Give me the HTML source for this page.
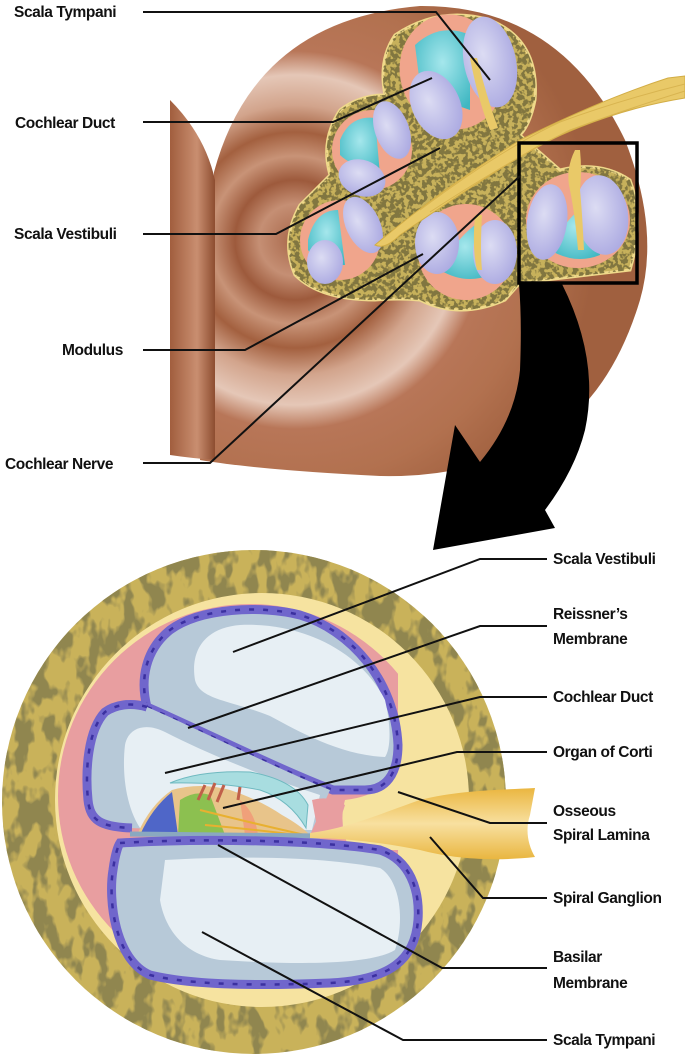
<!DOCTYPE html>
<html><head><meta charset="utf-8"><style>
html,body{margin:0;padding:0;background:#fff}
svg{display:block}
text{font-family:"Liberation Sans",sans-serif;font-weight:bold;font-size:15.5px;fill:#111;letter-spacing:-0.4px}
</style></head><body>
<svg width="685" height="1057" viewBox="0 0 685 1057" xmlns="http://www.w3.org/2000/svg">
<defs>
<filter id="tex" x="0" y="0" width="100%" height="100%">
<feTurbulence type="fractalNoise" baseFrequency="0.22" numOctaves="2" seed="3" result="n"/>
<feColorMatrix in="n" type="matrix" values="0 0 0 0 0.22  0 0 0 0 0.18  0 0 0 0 0.05  0 0 0 -10 5.6" result="d"/>
<feComposite in="d" in2="SourceGraphic" operator="in"/>
</filter>
<filter id="tex2" x="0" y="0" width="100%" height="100%">
<feTurbulence type="fractalNoise" baseFrequency="0.06 0.035" numOctaves="3" seed="7" result="n"/>
<feColorMatrix in="n" type="matrix" values="0 0 0 0 0.28  0 0 0 0 0.24  0 0 0 0 0.08  0 0 0 -8 4.3" result="d"/>
<feComposite in="d" in2="SourceGraphic" operator="in"/>
</filter>
<radialGradient id="rings" cx="295" cy="240" r="300" gradientUnits="userSpaceOnUse">
<stop offset="0" stop-color="#a8674a"/>
<stop offset="0.12" stop-color="#c58f74"/>
<stop offset="0.2" stop-color="#9d5a3c"/>
<stop offset="0.28" stop-color="#c89377"/>
<stop offset="0.36" stop-color="#a3603f"/>
<stop offset="0.45" stop-color="#d2a48c"/>
<stop offset="0.55" stop-color="#e5c7b7"/>
<stop offset="0.63" stop-color="#b87658"/>
<stop offset="0.8" stop-color="#b2714f"/>
<stop offset="1" stop-color="#a0603f"/>
</radialGradient>
<linearGradient id="strip" x1="0" x2="1">
<stop offset="0" stop-color="#a15e3e"/><stop offset="0.6" stop-color="#c98e70"/><stop offset="1" stop-color="#8d4d30"/>
</linearGradient>
<radialGradient id="lav" cx="0.4" cy="0.4" r="0.7"><stop offset="0" stop-color="#dcdcf3"/><stop offset="1" stop-color="#a8a6e0"/></radialGradient>
<radialGradient id="teal" cx="0.5" cy="0.4" r="0.7"><stop offset="0" stop-color="#a5e7ec"/><stop offset="1" stop-color="#3fb7c2"/></radialGradient>
<linearGradient id="lam" x1="0" x2="0" y1="0" y2="1"><stop offset="0" stop-color="#eab640"/><stop offset="0.5" stop-color="#f8e0a0"/><stop offset="1" stop-color="#e9b640"/></linearGradient>
<clipPath id="pinkclip"><rect x="0" y="0" width="398" height="1057"/></clipPath>
</defs>

<!-- TOP brown cochlea -->
<path d="M214 172 Q255 20 420 6 Q560 5 625 140 Q660 230 640 300 Q610 400 540 440 Q470 478 380 476 Q260 470 200 460 L214 172 Z" fill="url(#rings)"/>
<path d="M170 100 Q205 135 215 180 L215 460 Q190 458 170 455 Z" fill="url(#strip)"/>

<!-- bone matrix -->
<path d="M395 35 Q440 5 490 20 Q540 40 535 100 Q530 125 520 135 L560 170 Q600 160 630 180 Q645 220 630 270 L520 283 L505 300 Q460 320 420 300 Q400 298 375 300 Q320 300 295 275 Q280 240 300 205 Q320 185 330 175 Q320 140 340 110 Q360 95 385 95 Q378 60 395 35 Z" fill="#c7b15b" stroke="#efd98a" stroke-width="3"/>
<path d="M395 35 Q440 5 490 20 Q540 40 535 100 Q530 125 520 135 L560 170 Q600 160 630 180 Q645 220 630 270 L520 283 L505 300 Q460 320 420 300 Q400 298 375 300 Q320 300 295 275 Q280 240 300 205 Q320 185 330 175 Q320 140 340 110 Q360 95 385 95 Q378 60 395 35 Z" fill="#c7b15b" filter="url(#tex)"/>
<!-- cluster 1 -->
<ellipse cx="452" cy="72" rx="52" ry="58" transform="rotate(-15 452 72)" fill="#f0a58c"/>
<path d="M415 45 Q440 22 470 35 L470 110 Q440 100 420 85 Z" fill="url(#teal)"/>
<ellipse cx="490" cy="62" rx="26" ry="46" transform="rotate(-12 490 62)" fill="url(#lav)"/>
<ellipse cx="436" cy="105" rx="24" ry="36" transform="rotate(-25 436 105)" fill="url(#lav)"/>
<!-- cluster 2 -->
<circle cx="372" cy="150" r="40" fill="#f0a58c"/>
<path d="M340 140 Q350 115 375 118 L380 175 Q350 165 340 155 Z" fill="url(#teal)"/>
<ellipse cx="392" cy="130" rx="17" ry="30" transform="rotate(-20 392 130)" fill="url(#lav)"/>
<ellipse cx="362" cy="178" rx="24" ry="18" transform="rotate(20 362 178)" fill="url(#lav)"/>
<!-- cluster 3 -->
<circle cx="340" cy="240" r="40" fill="#f0a58c"/>
<path d="M308 240 Q315 210 338 210 L345 265 Q318 265 308 250 Z" fill="url(#teal)"/>
<ellipse cx="363" cy="225" rx="17" ry="30" transform="rotate(-25 363 225)" fill="url(#lav)"/>
<ellipse cx="325" cy="262" rx="18" ry="22" fill="url(#lav)"/>
<!-- cluster 4 -->
<circle cx="466" cy="252" r="48" fill="#f0a58c"/>
<path d="M440 270 Q465 285 490 275 L475 225 Q455 240 440 270 Z" fill="url(#teal)"/>
<ellipse cx="437" cy="243" rx="22" ry="31" fill="url(#lav)"/>
<ellipse cx="495" cy="252" rx="22" ry="32" fill="url(#lav)"/>
<!-- cluster 5 -->
<ellipse cx="578" cy="220" rx="52" ry="48" fill="#f0a58c"/>
<path d="M550 250 Q575 265 600 255 L590 205 Q570 210 550 250 Z" fill="url(#teal)"/>
<ellipse cx="547" cy="222" rx="20" ry="38" transform="rotate(8 547 222)" fill="url(#lav)"/>
<ellipse cx="602" cy="215" rx="26" ry="40" transform="rotate(-8 602 215)" fill="url(#lav)"/>

<!-- nerve -->
<path d="M375 245 Q440 190 520 140 Q600 100 668 78 L685 76 L685 98 Q610 110 540 145 Q480 180 400 235 Q385 250 375 245 Z" fill="#e9c968" stroke="#d2ad45" stroke-width="1"/>
<path d="M420 210 Q500 150 560 122 Q620 100 685 84 M430 212 Q510 160 570 130 Q630 108 685 91" stroke="#d8b450" stroke-width="1" fill="none"/>
<path d="M470 58 Q478 100 490 130 L498 128 Q486 95 477 58 Z" fill="#e9c968"/>
<path d="M575 150 Q565 170 570 190 Q575 215 578 250 L584 250 Q582 210 580 190 Q582 170 580 150 Z" fill="#e9c968"/>
<path d="M475 215 Q472 250 477 270 L482 270 Q480 250 482 215 Z" fill="#e9c968"/>

<!-- box -->
<rect x="519" y="143" width="118" height="140" fill="none" stroke="#000" stroke-width="3.5"/>

<!-- arrow -->
<path d="M519 284 L562 284 Q600 360 585 430 Q575 470 545 510 L555 528 L433 550 L455 425 L480 462 Q515 420 520 370 Q522 320 519 284 Z" fill="#000"/>

<!-- top labels -->
<g stroke="#111" stroke-width="2" fill="none">
<polyline points="143,12 436,12 490,80"/>
<polyline points="143,122 333,122 432,78"/>
<polyline points="143,234 276,234 440,148"/>
<polyline points="143,350 245,350 423,254"/>
<polyline points="143,463 210,463 520,176"/>
</g>
<text x="14" y="17">Scala Tympani</text>
<text x="15" y="128">Cochlear Duct</text>
<text x="14" y="239">Scala Vestibuli</text>
<text x="62" y="355">Modulus</text>
<text x="5" y="469">Cochlear Nerve</text>

<!-- BOTTOM cross section -->
<circle cx="254" cy="802" r="252" fill="#c9b25a"/>
<circle cx="254" cy="802" r="252" fill="#c9b25a" filter="url(#tex2)"/>
<circle cx="262" cy="800" r="207" fill="#f6e3a0"/>
<circle cx="250" cy="796" r="192" fill="#e89ea0" clip-path="url(#pinkclip)"/>
<path d="M398 760 Q390 795 345 800 Q338 825 350 850 L420 850 L420 760 Z" fill="#f6e3a0"/>

<!-- scala vestibuli -->
<path d="M147 707 C140 680 145 650 170 630 C200 608 260 605 300 615 C350 630 395 680 398 745 C398 775 385 790 365 790 L333 790 C280 770 200 730 147 707 Z" fill="#b7c9d8" stroke="#7066cc" stroke-width="9"/>
<path d="M147 707 C140 680 145 650 170 630 C200 608 260 605 300 615 C350 630 395 680 398 745 C398 775 385 790 365 790 L333 790 C280 770 200 730 147 707 Z" fill="none" stroke="#3b30a0" stroke-width="2.5" stroke-dasharray="5 9"/>
<path d="M195 680 C190 650 205 628 240 625 C300 622 360 650 385 700 C392 730 390 750 385 757 C340 755 300 732 270 716 C230 700 200 700 195 680 Z" fill="#e7eff4"/>

<!-- cochlear duct -->
<path d="M147 707 C130 702 115 705 105 712 C88 730 85 770 88 800 C90 820 100 827 130 828 L310 835 L330 790 C280 770 200 730 147 707 Z" fill="#b7c9d8"/>
<path d="M147 707 C130 702 115 705 105 712 C88 730 85 770 88 800 C90 820 100 827 132 828" fill="none" stroke="#7066cc" stroke-width="9"/>
<path d="M147 707 C130 702 115 705 105 712 C88 730 85 770 88 800 C90 820 100 827 132 828" fill="none" stroke="#3b30a0" stroke-width="2.5" stroke-dasharray="5 9"/>
<path d="M125 745 C128 728 145 722 165 732 C220 760 280 782 320 795 L312 830 L140 828 C125 805 122 770 125 745 Z" fill="#e7eff4"/>
<path d="M312 800 Q330 795 345 805 Q340 825 318 832 Z" fill="#e89ea0"/>

<!-- tectorial membrane -->
<path d="M170 783 Q200 770 250 772 Q295 780 308 805 L306 828 Q290 800 260 790 Q220 782 170 783 Z" fill="#a8dde0" stroke="#6fb9c0" stroke-width="1"/>
<!-- organ of corti -->
<path d="M137 835 Q150 805 172 790 Q200 782 230 790 Q260 800 282 815 Q300 825 310 835 Z" fill="#e8c48a"/>
<path d="M140 835 Q152 808 172 792 L178 835 Z" fill="#4f66c8"/>
<path d="M178 835 L180 800 Q195 790 210 795 L225 835 Z" fill="#8cc050"/>
<path d="M240 800 Q255 812 258 835 L245 835 Z" fill="#f0a07a"/>
<path d="M198 800 L205 785 M208 800 L215 783 M217 802 L224 785 M238 800 L240 787" stroke="#c0604a" stroke-width="3"/>
<path d="M200 810 Q260 825 305 835 M205 825 Q260 830 305 836" stroke="#e8b030" stroke-width="2" fill="none"/>
<path d="M130 834 L320 836" stroke="#8aa8c0" stroke-width="5"/>

<!-- osseous spiral lamina -->
<path d="M310 833 C350 828 390 810 420 800 C460 790 500 790 535 788 L530 815 C525 830 528 845 535 857 C490 862 450 858 420 850 C380 842 340 838 310 838 Z" fill="url(#lam)"/>

<!-- scala tympani -->
<path d="M120 843 C200 838 320 840 380 850 C410 860 420 890 418 920 C415 960 390 980 330 983 C260 986 190 985 150 975 C115 960 108 900 113 870 C115 855 118 846 120 843 Z" fill="#b7c9d8" stroke="#7066cc" stroke-width="9"/>
<path d="M120 843 C200 838 320 840 380 850 C410 860 420 890 418 920 C415 960 390 980 330 983 C260 986 190 985 150 975 C115 960 108 900 113 870 C115 855 118 846 120 843 Z" fill="none" stroke="#3b30a0" stroke-width="2.5" stroke-dasharray="5 9"/>
<path d="M165 860 C250 855 330 858 380 868 C400 880 405 920 395 950 C370 965 300 965 220 960 C185 955 165 930 160 900 Z" fill="#e7eff4"/>

<!-- bottom labels -->
<g stroke="#111" stroke-width="2" fill="none">
<polyline points="547,559 480,559 233,652"/>
<polyline points="547,626 480,626 188,728"/>
<polyline points="547,697 480,697 165,773"/>
<polyline points="547,752 457,752 223,808"/>
<polyline points="547,823 490,823 398,792"/>
<polyline points="547,898 483,898 430,837"/>
<polyline points="547,968 442,968 218,845"/>
<polyline points="547,1040 403,1040 202,932"/>
</g>
<text x="553" y="564">Scala Vestibuli</text>
<text x="553" y="619">Reissner’s</text>
<text x="553" y="644">Membrane</text>
<text x="553" y="702">Cochlear Duct</text>
<text x="553" y="757">Organ of Corti</text>
<text x="553" y="816">Osseous</text>
<text x="553" y="840">Spiral Lamina</text>
<text x="553" y="903">Spiral Ganglion</text>
<text x="553" y="962">Basilar</text>
<text x="553" y="988">Membrane</text>
<text x="553" y="1045">Scala Tympani</text>
</svg>
</body></html>
